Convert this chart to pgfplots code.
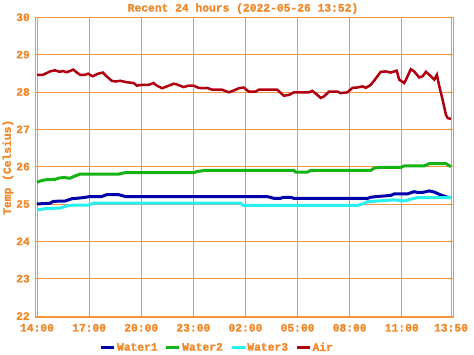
\documentclass[border=0pt]{standalone}
\usepackage{pgfplots}
\pgfplotsset{compat=1.18}
\usepackage{fontspec}
\setmainfont{Liberation Mono}[BoldFeatures={FakeBold=1.3}]
\definecolor{org}{RGB}{240,135,40}
\definecolor{grd}{RGB}{245,150,60}
\definecolor{w1}{RGB}{0,0,170}
\definecolor{w2}{RGB}{20,180,20}
\definecolor{w3}{RGB}{40,240,240}
\definecolor{air}{RGB}{176,0,16}
\begin{document}
\begin{tikzpicture}[font=\fontsize{11.3bp}{13bp}\selectfont\bfseries]
\useasboundingbox (-35bp,-37.7bp) rectangle (439bp,317.3bp);
\begin{axis}[
  at={(0,0)}, anchor=south west,
  scale only axis, width=418bp, height=300bp,
  xmin=-0.115, xmax=23.948, ymin=21.965, ymax=30,
  axis line style={grd, line width=0.9bp},
  grid=major, major grid style={grd, line width=0.9bp},
  xtick={0,3,6,9,12,15,18,21,23.8333},
  xticklabels={14:00,17:00,20:00,23:00,02:00,05:00,08:00,11:00,13:50},
  ytick={22,23,24,25,26,27,28,29,30},
  yticklabels={22,23,24,25,26,27,28,29,30},
  major tick length=0pt,
  /pgf/number format/assume math mode=true,
  tick label style={text=org},
  xticklabel style={anchor=base, yshift=-14.2bp, inner sep=0pt},
  yticklabel style={anchor=east, xshift=-5bp, inner sep=0pt},
  every axis title shift=0pt,
  title={Recent 24 hours (2022-05-26 13:52)},
  title style={text=org, at={(axis description cs:0.4976,1.0193)}, anchor=base, yshift=0pt, inner sep=0pt},
  ylabel={Temp (Celsius)},
  ylabel style={text=org, at={(axis description cs:-0.0646,0.5)}, anchor=center, inner sep=0pt},
  legend columns=4,
  legend style={draw=none, fill=none, at={(axis description cs:0.1555,-0.101)}, anchor=west,
    inner sep=0pt, outer sep=0pt, text=org,
    nodes={inner sep=1.5bp},
    /tikz/every even column/.append style={column sep=6bp}},
  legend image code/.code={\draw[#1, line width=2.5bp] (0bp,0bp) -- (13bp,0bp);},
]
\addplot[w1, line width=3bp] coordinates {
(0,25.00) (0.75,25.02) (0.94,25.07) (1.62,25.08) (2.0,25.14) (2.67,25.17) (3.06,25.20) (3.73,25.20) (4.02,25.25) (4.69,25.25) (5.08,25.20) (13.25,25.20) (13.64,25.15) (14.0,25.15) (14.21,25.18) (14.6,25.18) (14.79,25.15) (19.02,25.15) (19.21,25.18) (19.6,25.20) (20.37,25.23) (20.56,25.27) (21.33,25.27) (21.71,25.33) (21.9,25.31) (22.2,25.31) (22.58,25.35) (22.87,25.32) (23.25,25.24) (23.64,25.18) (23.83,25.18)};
\addlegendentry{Water1}
\addplot[w2, line width=3bp] coordinates {
(0,25.58) (0.27,25.63) (0.56,25.65) (1.04,25.66) (1.23,25.69) (1.52,25.71) (1.9,25.69) (2.19,25.75) (2.48,25.80) (4.69,25.80) (5.08,25.84) (9.02,25.84) (9.21,25.87) (9.69,25.90) (14.79,25.90) (14.89,25.85) (15.56,25.85) (15.75,25.90) (19.21,25.90) (19.4,25.96) (19.69,25.98) (20.94,25.98) (21.14,26.02) (22.29,26.02) (22.58,26.08) (23.54,26.08) (23.83,26.00)};
\addlegendentry{Water2}
\addplot[w3, line width=3bp] coordinates {
(0,24.84) (0.56,24.88) (1.33,24.89) (1.71,24.95) (2.1,24.97) (2.96,24.97) (3.25,25.02) (11.7,25.02) (11.9,24.96) (18.45,24.96) (18.74,25.00) (19.02,25.06) (19.6,25.08) (20.56,25.11) (21.14,25.08) (21.52,25.13) (21.9,25.17) (23.83,25.17)};
\addlegendentry{Water3}
\addplot[air, line width=2.5bp] coordinates {
(0.0,28.46) (0.35,28.46) (0.75,28.55) (1.04,28.58) (1.3,28.54) (1.5,28.56) (1.7,28.53) (1.9,28.56) (2.08,28.60) (2.3,28.52) (2.48,28.46) (2.77,28.46) (2.94,28.49) (3.2,28.42) (3.52,28.49) (3.79,28.52) (3.98,28.43) (4.3,28.30) (4.5,28.28) (4.79,28.30) (5.17,28.26) (5.56,28.24) (5.75,28.17) (6.04,28.19) (6.42,28.19) (6.71,28.24) (6.9,28.17) (7.2,28.10) (7.48,28.15) (7.87,28.22) (8.06,28.20) (8.44,28.13) (8.73,28.17) (9.02,28.17) (9.3,28.11) (9.6,28.10) (9.79,28.11) (10.08,28.06) (10.66,28.06) (11.04,27.99) (11.33,28.04) (11.62,28.10) (11.9,28.12) (12.19,28.01) (12.58,28.01) (12.77,28.06) (13.83,28.06) (14.21,27.90) (14.5,27.92) (14.79,27.99) (15.65,27.99) (15.85,28.03) (16.14,27.92) (16.33,27.84) (16.52,27.88) (16.81,28.01) (17.29,28.01) (17.48,27.97) (17.87,27.99) (18.16,28.11) (18.45,28.12) (18.74,28.15) (18.93,28.11) (19.21,28.19) (19.4,28.30) (19.79,28.54) (20.08,28.55) (20.37,28.52) (20.7,28.57) (20.75,28.50) (20.85,28.33) (21.14,28.24) (21.24,28.33) (21.52,28.61) (21.71,28.55) (22.0,28.39) (22.2,28.42) (22.39,28.54) (22.68,28.42) (22.87,28.33) (23.02,28.46) (23.16,28.15) (23.35,27.79) (23.54,27.39) (23.64,27.30) (23.83,27.28)};
\addlegendentry{Air}
\end{axis}
\end{tikzpicture}
\end{document}
